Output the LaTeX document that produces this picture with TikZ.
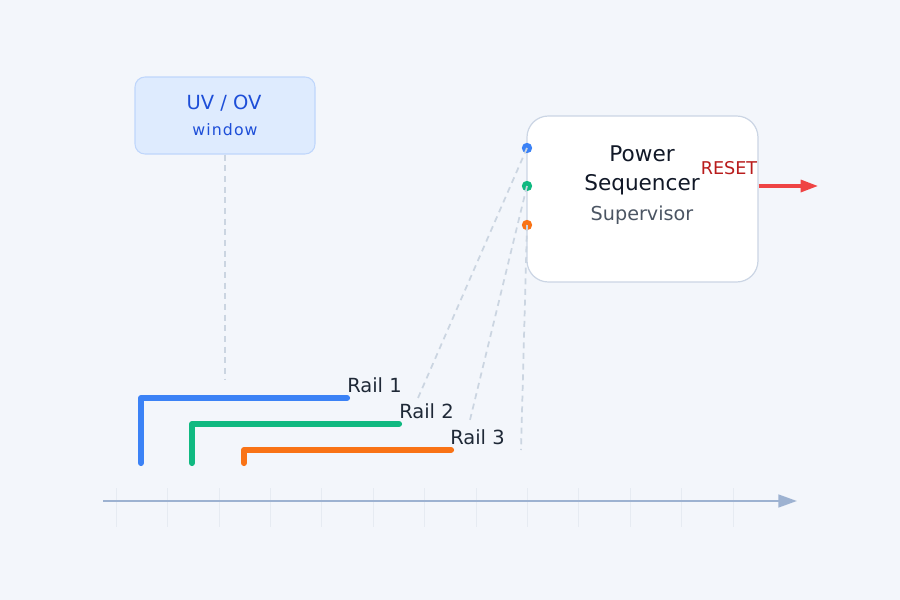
\documentclass[tikz,border=0pt]{standalone}
\usepackage{fontspec}
\setmainfont{DejaVu Sans}
\usetikzlibrary{arrows.meta}
\definecolor{bg}{HTML}{F3F6FB}
\definecolor{uvfill}{HTML}{DEEBFE}
\definecolor{uvdraw}{HTML}{BFD6FB}
\definecolor{uvtext}{HTML}{1D4ED8}
\definecolor{boxdraw}{HTML}{CBD5E4}
\definecolor{dark}{HTML}{111827}
\definecolor{grey}{HTML}{4B5563}
\definecolor{railtext}{HTML}{1F2937}
\definecolor{cblue}{HTML}{3B82F6}
\definecolor{cgreen}{HTML}{10B981}
\definecolor{corange}{HTML}{F97316}
\definecolor{resettext}{HTML}{B91C1C}
\definecolor{resetline}{HTML}{EF4444}
\definecolor{dashc}{HTML}{CBD5E1}
\definecolor{axisc}{HTML}{9DB2D1}
\definecolor{tickc}{HTML}{E6EBF2}
\tikzset{
  px/.style={x=0.75pt,y=-0.75pt},
  dashlink/.style={draw=dashc,line width=1.3pt,dash pattern=on 4.5pt off 3.5pt},
  rail/.style={line width=4.6pt,line cap=round,line join=round},
  dot/.style={circle,inner sep=0pt,minimum size=7.8pt},
  railtxt/.style={text=railtext,font=\fontsize{14.6}{17}\selectfont,anchor=base west,inner sep=0pt},
  ctxt/.style={anchor=base,inner sep=0pt},
  tick/.style={draw=tickc,line width=0.6pt},
}
\begin{document}
\begin{tikzpicture}[px]
\useasboundingbox (0,0) rectangle (900,600);
\fill[bg] (0,0) rectangle (900,600);
% ticks
\foreach \t in {116,167,219,270,321,373,424,476,527,578,630,681,733}
  \draw[tick] (\t,488) -- (\t,527);
% axis
\coordinate (ax0) at (103,501);
\coordinate (ax1) at (797,501);
\draw[draw=axisc,line width=1.9pt,-{Triangle[length=14pt,width=9.5pt]}] (ax0) -- (ax1);
% UV/OV box
\node[draw=uvdraw,fill=uvfill,line width=0.8pt,rounded corners=7.5pt,minimum width=135pt,minimum height=57.75pt,inner sep=0pt] (uv) at (225,115.5) {};
\node[ctxt,text=uvtext,font=\fontsize{14.6}{16}\selectfont] (uvt) at (224,109.3) {UV / OV};
\node[ctxt,text=uvtext,font=\fontsize{11.8}{14}\selectfont\addfontfeature{LetterSpace=7}] (uvw) at (225,135) {window};
\coordinate (uvend) at (225,379);
\draw[dashlink] (uv.south) -- (uvend);
% Power box
\node[draw=boxdraw,fill=white,line width=0.9pt,rounded corners=16pt,minimum width=173.25pt,minimum height=124.5pt,inner sep=0pt] (ps) at (642.5,199) {};
\node[ctxt,text=dark,font=\fontsize{16.2}{18}\selectfont] (p1) at (642,161.7) {Power};
\node[ctxt,text=dark,font=\fontsize{16.2}{18}\selectfont] (p2) at (642,190.7) {Sequencer};
\node[ctxt,text=grey,font=\fontsize{14.4}{17}\selectfont] (p3) at (642,220) {Supervisor};
\node[ctxt,text=resettext,font=\fontsize{13.2}{16}\selectfont] (rst) at (729,174) {RESET};
\coordinate (rstend) at (818,186);
\draw[draw=resetline,line width=2.4pt,-{Triangle[length=13pt,width=9pt]}] (ps.east |- rstend) -- (rstend);
% rails
\coordinate (r1a) at (141,463); \coordinate (r1b) at (141,398); \coordinate (r1c) at (347,398);
\coordinate (r2a) at (192,463); \coordinate (r2b) at (192,424); \coordinate (r2c) at (399,424);
\coordinate (r3a) at (244,463); \coordinate (r3b) at (244,450); \coordinate (r3c) at (451,450);
\draw[rail,cblue] (r1a) -- (r1b) -- (r1c);
\draw[rail,cgreen] (r2a) -- (r2b) -- (r2c);
\draw[rail,corange] (r3a) -- (r3b) -- (r3c);
\node[railtxt] (l1) at (347,392) {Rail 1};
\node[railtxt] (l2) at (399,418) {Rail 2};
\node[railtxt] (l3) at (450,444) {Rail 3};
% dots and dashed links
\node[dot,fill=cblue] (d1) at (527,148) {};
\node[dot,fill=cgreen] (d2) at (527,186) {};
\node[dot,fill=corange] (d3) at (527,225) {};
\coordinate (e1) at (418,398);
\coordinate (e2) at (469,424);
\coordinate (e3) at (521,450);
\draw[dashlink] (d1.center) -- (e1);
\draw[dashlink] (d2.center) -- (e2);
\draw[dashlink] (d3.center) -- (e3);
\end{tikzpicture}
\end{document}
